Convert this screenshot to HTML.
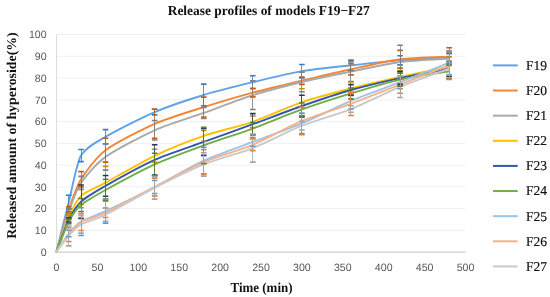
<!DOCTYPE html><html><head><meta charset="utf-8"><style>html,body{margin:0;padding:0;background:#fff;width:550px;height:297px;overflow:hidden}svg{display:block}</style></head><body><svg width="550" height="297" viewBox="0 0 550 297" text-rendering="geometricPrecision">
<rect width="550" height="297" fill="#fff"/>
<g stroke="#f0f0f0" stroke-width="1"><line x1="56.5" y1="230.43" x2="465.50" y2="230.43"/><line x1="56.5" y1="208.66" x2="465.50" y2="208.66"/><line x1="56.5" y1="186.89" x2="465.50" y2="186.89"/><line x1="56.5" y1="165.12" x2="465.50" y2="165.12"/><line x1="56.5" y1="143.35" x2="465.50" y2="143.35"/><line x1="56.5" y1="121.58" x2="465.50" y2="121.58"/><line x1="56.5" y1="99.81" x2="465.50" y2="99.81"/><line x1="56.5" y1="78.04" x2="465.50" y2="78.04"/><line x1="56.5" y1="56.27" x2="465.50" y2="56.27"/><line x1="56.5" y1="34.50" x2="465.50" y2="34.50"/></g>
<line x1="56.5" y1="34.50" x2="56.5" y2="252.2" stroke="#dcdcdc" stroke-width="1"/>
<line x1="56.5" y1="252.2" x2="465.50" y2="252.2" stroke="#d0d0d0" stroke-width="1.2"/>
<g font-family="'Liberation Sans', sans-serif" font-size="10.6" fill="#585858"><text x="46.6" y="256.00" text-anchor="end">0</text><text x="46.6" y="234.23" text-anchor="end">10</text><text x="46.6" y="212.46" text-anchor="end">20</text><text x="46.6" y="190.69" text-anchor="end">30</text><text x="46.6" y="168.92" text-anchor="end">40</text><text x="46.6" y="147.15" text-anchor="end">50</text><text x="46.6" y="125.38" text-anchor="end">60</text><text x="46.6" y="103.61" text-anchor="end">70</text><text x="46.6" y="81.84" text-anchor="end">80</text><text x="46.6" y="60.07" text-anchor="end">90</text><text x="46.6" y="38.30" text-anchor="end">100</text><text x="56.50" y="271.2" text-anchor="middle">0</text><text x="97.40" y="271.2" text-anchor="middle">50</text><text x="138.30" y="271.2" text-anchor="middle">100</text><text x="179.20" y="271.2" text-anchor="middle">150</text><text x="220.10" y="271.2" text-anchor="middle">200</text><text x="261.00" y="271.2" text-anchor="middle">250</text><text x="301.90" y="271.2" text-anchor="middle">300</text><text x="342.80" y="271.2" text-anchor="middle">350</text><text x="383.70" y="271.2" text-anchor="middle">400</text><text x="424.60" y="271.2" text-anchor="middle">450</text><text x="465.50" y="271.2" text-anchor="middle">500</text></g>
<path d="M56.50,251.50 C58.03,245.33 65.70,214.13 68.77,202.14 C71.84,190.15 76.44,163.76 81.04,155.59 C85.64,147.42 96.38,142.19 105.58,136.75 C114.78,131.32 142.39,117.30 154.66,112.07 C166.93,106.85 191.47,98.71 203.74,94.97 C216.01,91.24 240.55,85.17 252.82,82.20 C265.09,79.22 289.63,73.27 301.90,71.16 C314.17,69.04 338.71,66.66 350.98,65.31 C363.25,63.96 387.79,61.25 400.06,60.33 C412.33,59.41 443.00,58.25 449.14,57.95" fill="none" stroke="#5FA2E8" stroke-width="1.9" stroke-linecap="round"/>
<path d="M56.50,251.50 C58.03,246.22 65.70,218.32 68.77,209.28 C71.84,200.24 76.44,186.58 81.04,179.19 C85.64,171.80 96.38,157.11 105.58,150.18 C114.78,143.25 142.39,129.15 154.66,123.77 C166.93,118.38 191.47,110.99 203.74,107.09 C216.01,103.20 240.55,95.89 252.82,92.59 C265.09,89.29 289.63,83.60 301.90,80.68 C314.17,77.76 338.71,71.89 350.98,69.21 C363.25,66.53 387.79,60.82 400.06,59.25 C412.33,57.68 443.00,56.97 449.14,56.65" fill="none" stroke="#F38535" stroke-width="1.9" stroke-linecap="round"/>
<path d="M56.50,251.50 C58.03,246.49 65.70,220.03 68.77,211.45 C71.84,202.87 76.44,189.69 81.04,182.87 C85.64,176.05 96.38,163.47 105.58,156.89 C114.78,150.31 142.39,135.75 154.66,130.26 C166.93,124.77 191.47,117.32 203.74,112.94 C216.01,108.56 240.55,99.06 252.82,95.19 C265.09,91.32 289.63,84.93 301.90,81.98 C314.17,79.03 338.71,74.08 350.98,71.59 C363.25,69.10 387.79,63.69 400.06,62.06 C412.33,60.44 443.00,59.03 449.14,58.60" fill="none" stroke="#A9A9A9" stroke-width="1.9" stroke-linecap="round"/>
<path d="M56.50,251.50 C58.03,247.20 65.70,224.03 68.77,217.08 C71.84,210.12 76.44,200.16 81.04,195.86 C85.64,191.56 96.38,187.66 105.58,182.65 C114.78,177.65 142.39,161.65 154.66,155.81 C166.93,149.96 191.47,140.14 203.74,135.89 C216.01,131.64 240.55,126.04 252.82,121.82 C265.09,117.59 289.63,106.28 301.90,102.12 C314.17,97.95 338.71,91.61 350.98,88.48 C363.25,85.34 387.79,79.73 400.06,77.00 C412.33,74.27 443.00,67.91 449.14,66.61" fill="none" stroke="#FFC000" stroke-width="1.9" stroke-linecap="round"/>
<path d="M56.50,251.50 C58.03,247.55 65.70,226.12 68.77,219.89 C71.84,213.67 76.44,205.95 81.04,201.70 C85.64,197.46 96.38,191.12 105.58,185.90 C114.78,180.68 142.39,165.41 154.66,159.92 C166.93,154.43 191.47,146.42 203.74,141.95 C216.01,137.49 240.55,128.69 252.82,124.20 C265.09,119.71 289.63,110.29 301.90,106.01 C314.17,101.74 338.71,93.48 350.98,89.99 C363.25,86.50 387.79,80.74 400.06,78.08 C412.33,75.43 443.00,69.94 449.14,68.77" fill="none" stroke="#3358A8" stroke-width="1.9" stroke-linecap="round"/>
<path d="M56.50,251.50 C58.03,247.77 65.70,227.44 68.77,221.62 C71.84,215.80 76.44,208.90 81.04,204.95 C85.64,201.00 96.38,195.07 105.58,190.01 C114.78,184.95 142.39,170.04 154.66,164.47 C166.93,158.89 191.47,149.91 203.74,145.41 C216.01,140.92 240.55,133.02 252.82,128.53 C265.09,124.04 289.63,113.86 301.90,109.48 C314.17,105.09 338.71,97.19 350.98,93.45 C363.25,89.72 387.79,82.36 400.06,79.60 C412.33,76.84 443.00,72.40 449.14,71.37" fill="none" stroke="#70AD47" stroke-width="1.9" stroke-linecap="round"/>
<path d="M56.50,251.50 C58.03,249.25 65.70,237.27 68.77,233.53 C71.84,229.80 76.44,224.41 81.04,221.62 C85.64,218.84 96.38,215.56 105.58,211.23 C114.78,206.90 142.39,193.32 154.66,186.98 C166.93,180.65 191.47,166.20 203.74,160.57 C216.01,154.94 240.55,146.61 252.82,141.95 C265.09,137.30 289.63,128.47 301.90,123.33 C314.17,118.19 338.71,105.96 350.98,100.82 C363.25,95.67 387.79,86.96 400.06,82.20 C412.33,77.43 443.00,65.15 449.14,62.71" fill="none" stroke="#9DC3E6" stroke-width="1.9" stroke-linecap="round"/>
<path d="M56.50,251.50 C58.03,249.39 65.70,238.29 68.77,234.61 C71.84,230.93 76.44,224.79 81.04,222.06 C85.64,219.32 96.38,217.13 105.58,212.75 C114.78,208.36 142.39,193.32 154.66,186.98 C166.93,180.65 191.47,167.36 203.74,162.09 C216.01,156.81 240.55,149.91 252.82,144.77 C265.09,139.62 289.63,126.07 301.90,120.95 C314.17,115.84 338.71,108.39 350.98,103.85 C363.25,99.30 387.79,89.40 400.06,84.58 C412.33,79.76 443.00,67.72 449.14,65.31" fill="none" stroke="#F8B08A" stroke-width="1.9" stroke-linecap="round"/>
<path d="M56.50,251.50 C58.03,249.55 65.70,239.29 68.77,235.91 C71.84,232.53 76.44,227.09 81.04,224.44 C85.64,221.79 96.38,219.27 105.58,214.69 C114.78,210.12 142.39,194.13 154.66,187.85 C166.93,181.57 191.47,169.45 203.74,164.47 C216.01,159.49 240.55,152.86 252.82,148.01 C265.09,143.17 289.63,130.58 301.90,125.71 C314.17,120.84 338.71,113.89 350.98,109.04 C363.25,104.20 387.79,92.02 400.06,86.96 C412.33,81.90 443.00,70.86 449.14,68.56" fill="none" stroke="#C9C9C9" stroke-width="1.9" stroke-linecap="round"/>
<path d="M68.50,195.21V209.07M81.50,149.53V161.65M105.50,129.61V143.90M154.50,109.26V114.89M203.50,84.15V105.80M252.50,75.70V88.69M301.50,64.44V77.87M350.50,60.11V70.51M400.50,55.78V64.88M449.50,53.62V62.28" fill="none" stroke="#3A7CC8" stroke-width="1" stroke-opacity="0.8"/>
<path d="M65.97,195.21H71.57M65.97,209.07H71.57M78.24,149.53H83.84M78.24,161.65H83.84M102.78,129.61H108.38M102.78,143.90H108.38M151.86,109.26H157.46M151.86,114.89H157.46M200.94,84.15H206.54M200.94,105.80H206.54M250.02,75.70H255.62M250.02,88.69H255.62M299.10,64.44H304.70M299.10,77.87H304.70M348.18,60.11H353.78M348.18,70.51H353.78M397.26,55.78H402.86M397.26,64.88H402.86M446.34,53.62H451.94M446.34,62.28H451.94" fill="none" stroke="#3A7CC8" stroke-width="1.6"/>
<path d="M68.50,206.68V211.88M81.50,171.61V186.77M105.50,138.27V162.09M154.50,109.26V138.27M203.50,97.14V117.05M252.50,88.26V96.92M301.50,77.00V84.36M350.50,63.58V74.84M400.50,50.37V68.12M449.50,47.77V65.53" fill="none" stroke="#C55A11" stroke-width="1" stroke-opacity="0.8"/>
<path d="M65.97,206.68H71.57M65.97,211.88H71.57M78.24,171.61H83.84M78.24,186.77H83.84M102.78,138.27H108.38M102.78,162.09H108.38M151.86,109.26H157.46M151.86,138.27H157.46M200.94,97.14H206.54M200.94,117.05H206.54M250.02,88.26H255.62M250.02,96.92H255.62M299.10,77.00H304.70M299.10,84.36H304.70M348.18,63.58H353.78M348.18,74.84H353.78M397.26,50.37H402.86M397.26,68.12H402.86M446.34,47.77H451.94M446.34,65.53H451.94" fill="none" stroke="#C55A11" stroke-width="1.6"/>
<path d="M68.50,208.85V214.05M81.50,176.37V189.36M105.50,143.68V170.10M154.50,120.52V140.00M203.50,107.53V118.35M252.50,80.90V109.48M301.50,72.24V91.72M350.50,61.63V81.55M400.50,45.18V78.95M449.50,52.10V65.09" fill="none" stroke="#7F7F7F" stroke-width="1" stroke-opacity="0.8"/>
<path d="M65.97,208.85H71.57M65.97,214.05H71.57M78.24,176.37H83.84M78.24,189.36H83.84M102.78,143.68H108.38M102.78,170.10H108.38M151.86,120.52H157.46M151.86,140.00H157.46M200.94,107.53H206.54M200.94,118.35H206.54M250.02,80.90H255.62M250.02,109.48H255.62M299.10,72.24H304.70M299.10,91.72H304.70M348.18,61.63H353.78M348.18,81.55H353.78M397.26,45.18H402.86M397.26,78.95H402.86M446.34,52.10H451.94M446.34,65.09H451.94" fill="none" stroke="#7F7F7F" stroke-width="1.6"/>
<path d="M68.50,214.91V219.24M81.50,187.20V204.52M105.50,166.42V198.89M154.50,149.31V162.30M203.50,130.48V141.30M252.50,115.97V127.66M301.50,88.69V115.54M350.50,81.98V94.97M400.50,70.51V83.50M449.50,56.87V76.35" fill="none" stroke="#BF9000" stroke-width="1" stroke-opacity="0.8"/>
<path d="M65.97,214.91H71.57M65.97,219.24H71.57M78.24,187.20H83.84M78.24,204.52H83.84M102.78,166.42H108.38M102.78,198.89H108.38M151.86,149.31H157.46M151.86,162.30H157.46M200.94,130.48H206.54M200.94,141.30H206.54M250.02,115.97H255.62M250.02,127.66H255.62M299.10,88.69H304.70M299.10,115.54H304.70M348.18,81.98H353.78M348.18,94.97H353.78M397.26,70.51H402.86M397.26,83.50H402.86M446.34,56.87H451.94M446.34,76.35H451.94" fill="none" stroke="#BF9000" stroke-width="1.6"/>
<path d="M68.50,217.73V222.06M81.50,185.03V218.38M105.50,175.51V196.29M154.50,144.77V175.08M203.50,128.53V155.37M252.50,113.59V134.81M301.50,95.19V116.84M350.50,84.58V95.40M400.50,71.59V84.58M449.50,61.20V76.35" fill="none" stroke="#203864" stroke-width="1" stroke-opacity="0.8"/>
<path d="M65.97,217.73H71.57M65.97,222.06H71.57M78.24,185.03H83.84M78.24,218.38H83.84M102.78,175.51H108.38M102.78,196.29H108.38M151.86,144.77H157.46M151.86,175.08H157.46M200.94,128.53H206.54M200.94,155.37H206.54M250.02,113.59H255.62M250.02,134.81H255.62M299.10,95.19H304.70M299.10,116.84H304.70M348.18,84.58H353.78M348.18,95.40H353.78M397.26,71.59H402.86M397.26,84.58H402.86M446.34,61.20H451.94M446.34,76.35H451.94" fill="none" stroke="#203864" stroke-width="1.6"/>
<path d="M68.50,219.46V223.79M81.50,198.46V211.45M105.50,179.19V200.84M154.50,153.21V175.72M203.50,127.23V163.60M252.50,122.47V134.59M301.50,102.98V115.97M350.50,88.04V98.87M400.50,73.10V86.09M449.50,64.01V78.73" fill="none" stroke="#548235" stroke-width="1" stroke-opacity="0.8"/>
<path d="M65.97,219.46H71.57M65.97,223.79H71.57M78.24,198.46H83.84M78.24,211.45H83.84M102.78,179.19H108.38M102.78,200.84H108.38M151.86,153.21H157.46M151.86,175.72H157.46M200.94,127.23H206.54M200.94,163.60H206.54M250.02,122.47H255.62M250.02,134.59H255.62M299.10,102.98H304.70M299.10,115.97H304.70M348.18,88.04H353.78M348.18,98.87H353.78M397.26,73.10H402.86M397.26,86.09H402.86M446.34,64.01H451.94M446.34,78.73H451.94" fill="none" stroke="#548235" stroke-width="1.6"/>
<path d="M68.50,230.28V236.78M81.50,207.77V235.48M105.50,199.32V223.14M154.50,180.49V193.48M203.50,147.36V173.78M252.50,137.62V146.28M301.50,113.16V133.51M350.50,92.59V109.04M400.50,75.70V88.69M449.50,50.80V74.62" fill="none" stroke="#5B9BD5" stroke-width="1" stroke-opacity="0.8"/>
<path d="M65.97,230.28H71.57M65.97,236.78H71.57M78.24,207.77H83.84M78.24,235.48H83.84M102.78,199.32H108.38M102.78,223.14H108.38M151.86,180.49H157.46M151.86,193.48H157.46M200.94,147.36H206.54M200.94,173.78H206.54M250.02,137.62H255.62M250.02,146.28H255.62M299.10,113.16H304.70M299.10,133.51H304.70M348.18,92.59H353.78M348.18,109.04H353.78M397.26,75.70H402.86M397.26,88.69H402.86M446.34,50.80H451.94M446.34,74.62H451.94" fill="none" stroke="#5B9BD5" stroke-width="1.6"/>
<path d="M68.50,227.69V241.54M81.50,213.61V230.50M105.50,207.98V217.51M154.50,178.11V195.86M203.50,149.75V174.43M252.50,138.92V150.61M301.50,107.09V134.81M350.50,92.16V115.54M400.50,75.92V93.24M449.50,51.24V79.38" fill="none" stroke="#ED7D31" stroke-width="1" stroke-opacity="0.8"/>
<path d="M65.97,227.69H71.57M65.97,241.54H71.57M78.24,213.61H83.84M78.24,230.50H83.84M102.78,207.98H108.38M102.78,217.51H108.38M151.86,178.11H157.46M151.86,195.86H157.46M200.94,149.75H206.54M200.94,174.43H206.54M250.02,138.92H255.62M250.02,150.61H255.62M299.10,107.09H304.70M299.10,134.81H304.70M348.18,92.16H353.78M348.18,115.54H353.78M397.26,75.92H402.86M397.26,93.24H402.86M446.34,51.24H451.94M446.34,79.38H451.94" fill="none" stroke="#ED7D31" stroke-width="1.6"/>
<path d="M68.50,225.95V245.87M81.50,215.78V233.10M105.50,208.20V221.19M154.50,176.59V199.11M203.50,152.78V176.16M252.50,133.94V162.09M301.50,121.38V130.04M350.50,105.80V112.29M400.50,76.35V97.57M449.50,62.06V75.05" fill="none" stroke="#A5A5A5" stroke-width="1" stroke-opacity="0.8"/>
<path d="M65.97,225.95H71.57M65.97,245.87H71.57M78.24,215.78H83.84M78.24,233.10H83.84M102.78,208.20H108.38M102.78,221.19H108.38M151.86,176.59H157.46M151.86,199.11H157.46M200.94,152.78H206.54M200.94,176.16H206.54M250.02,133.94H255.62M250.02,162.09H255.62M299.10,121.38H304.70M299.10,130.04H304.70M348.18,105.80H353.78M348.18,112.29H353.78M397.26,76.35H402.86M397.26,97.57H402.86M446.34,62.06H451.94M446.34,75.05H451.94" fill="none" stroke="#A5A5A5" stroke-width="1.6"/>
<line x1="493" y1="65.40" x2="517.7" y2="65.40" stroke="#5FA2E8" stroke-width="2"/><text x="526" y="69.80" font-family="'Liberation Serif', serif" font-size="13.5" fill="#111" stroke="#111" stroke-width="0.18">F19</text><line x1="493" y1="90.53" x2="517.7" y2="90.53" stroke="#F38535" stroke-width="2"/><text x="526" y="94.93" font-family="'Liberation Serif', serif" font-size="13.5" fill="#111" stroke="#111" stroke-width="0.18">F20</text><line x1="493" y1="115.66" x2="517.7" y2="115.66" stroke="#A9A9A9" stroke-width="2"/><text x="526" y="120.06" font-family="'Liberation Serif', serif" font-size="13.5" fill="#111" stroke="#111" stroke-width="0.18">F21</text><line x1="493" y1="140.79" x2="517.7" y2="140.79" stroke="#FFC000" stroke-width="2"/><text x="526" y="145.19" font-family="'Liberation Serif', serif" font-size="13.5" fill="#111" stroke="#111" stroke-width="0.18">F22</text><line x1="493" y1="165.92" x2="517.7" y2="165.92" stroke="#3358A8" stroke-width="2"/><text x="526" y="170.32" font-family="'Liberation Serif', serif" font-size="13.5" fill="#111" stroke="#111" stroke-width="0.18">F23</text><line x1="493" y1="191.05" x2="517.7" y2="191.05" stroke="#70AD47" stroke-width="2"/><text x="526" y="195.45" font-family="'Liberation Serif', serif" font-size="13.5" fill="#111" stroke="#111" stroke-width="0.18">F24</text><line x1="493" y1="216.18" x2="517.7" y2="216.18" stroke="#9DC3E6" stroke-width="2"/><text x="526" y="220.58" font-family="'Liberation Serif', serif" font-size="13.5" fill="#111" stroke="#111" stroke-width="0.18">F25</text><line x1="493" y1="241.31" x2="517.7" y2="241.31" stroke="#F8B08A" stroke-width="2"/><text x="526" y="245.71" font-family="'Liberation Serif', serif" font-size="13.5" fill="#111" stroke="#111" stroke-width="0.18">F26</text><line x1="493" y1="266.44" x2="517.7" y2="266.44" stroke="#C9C9C9" stroke-width="2"/><text x="526" y="270.84" font-family="'Liberation Serif', serif" font-size="13.5" fill="#111" stroke="#111" stroke-width="0.18">F27</text>
<text x="268.7" y="14.8" text-anchor="middle" font-family="'Liberation Serif', serif" font-weight="bold" font-size="13.6" fill="#111" textLength="202" lengthAdjust="spacingAndGlyphs">Release profiles of models F19−F27</text>
<text x="261.5" y="291.7" text-anchor="middle" font-family="'Liberation Serif', serif" font-weight="bold" font-size="13.6" fill="#111" textLength="62" lengthAdjust="spacingAndGlyphs">Time (min)</text>
<text transform="translate(15.9,135.6) rotate(-90)" x="0" y="0" text-anchor="middle" font-family="'Liberation Serif', serif" font-weight="bold" font-size="13.5" fill="#111" textLength="206.5" lengthAdjust="spacingAndGlyphs">Released amount of hyperoside(%)</text>
</svg></body></html>
